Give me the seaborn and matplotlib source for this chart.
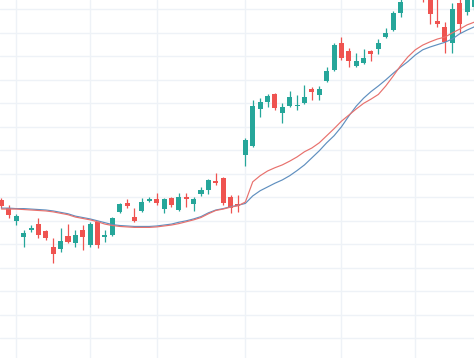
import numpy as np
import pandas as pd
import seaborn as sns
import matplotlib.pyplot as plt

# --- Configuration ---
OUT_FILE = 'out.png'
UP_COLOR = '#26a69a'
DOWN_COLOR = '#ef5350'
MA_FAST_COLOR = '#e8716d'
MA_SLOW_COLOR = '#5f8fbf'
GRID_COLOR = '#eef2f7'

# --- Candle data ---
opens = [129.4, 127.7, 125.0, 121.6, 123.1, 124.3, 122.9, 119.4, 119.0, 121.8,
         120.3, 123.1, 119.9, 124.8, 121.6, 122.0, 126.9, 128.8, 125.8, 127.1,
         129.2, 129.7, 127.5, 129.9, 127.3, 130.1, 128.6, 130.7, 131.6, 133.5,
         134.1, 130.1, 128.4, 139.0, 140.9, 148.8, 150.3, 152.0, 148.0, 149.4,
         149.4, 150.1, 153.1, 151.8, 154.8, 157.1, 162.9, 161.1, 158.0, 158.6,
         161.1, 161.6, 164.1, 165.6, 169.2, 173.0, 176.0, 176.0, 173.5, 167.5,
         166.3, 162.9, 171.4, 169.4, 170.5]
highs = [129.9, 128.4, 126.5, 123.1, 124.1, 125.6, 123.1, 121.4, 123.5, 124.3,
         123.1, 124.1, 124.8, 125.0, 123.1, 125.8, 128.8, 129.7, 127.7, 129.9,
         130.1, 130.9, 129.9, 130.1, 130.9, 130.9, 130.1, 132.2, 133.9, 135.2,
         134.3, 130.5, 130.5, 142.6, 150.7, 151.1, 152.0, 152.2, 150.1, 152.6,
         151.8, 153.9, 153.5, 153.7, 157.7, 162.9, 164.1, 161.8, 160.7, 161.6,
         161.4, 163.7, 166.0, 169.7, 172.4, 177.0, 178.5, 177.0, 174.0, 172.5,
         167.3, 171.4, 172.2, 173.0, 173.0]
lows = [127.7, 125.6, 124.1, 119.4, 122.6, 121.4, 120.9, 116.0, 118.4, 120.3,
        119.4, 118.8, 119.4, 119.2, 120.5, 121.8, 126.7, 127.7, 124.8, 126.9,
        129.0, 128.4, 126.7, 128.0, 127.1, 128.0, 127.1, 130.3, 130.7, 132.6,
        128.4, 126.7, 126.9, 136.7, 140.7, 147.1, 149.2, 148.6, 145.8, 149.2,
        148.6, 149.9, 150.7, 150.7, 154.6, 156.9, 159.2, 157.7, 157.7, 158.4,
        159.0, 160.5, 163.9, 165.4, 168.4, 172.5, 174.0, 171.6, 166.9, 166.3,
        160.7, 160.7, 165.0, 168.8, 169.8]
closes = [128.2, 126.3, 126.0, 122.4, 123.5, 122.0, 121.4, 118.0, 120.7, 120.5,
          122.0, 121.6, 124.3, 119.9, 122.0, 125.6, 128.6, 128.2, 125.0, 129.0,
          129.7, 128.8, 129.7, 128.4, 130.1, 129.7, 129.7, 131.6, 133.7, 133.1,
          128.8, 127.7, 128.2, 142.2, 149.4, 150.3, 151.6, 149.0, 149.2, 151.4,
          149.7, 151.4, 152.4, 153.1, 156.9, 162.4, 159.7, 159.0, 159.0, 159.7,
          160.5, 162.9, 165.0, 169.2, 171.6, 176.0, 177.5, 173.5, 169.0, 166.9,
          163.1, 170.1, 166.9, 172.5, 172.5]

# --- Moving averages ---
ma_fast = [127.5, 127.5, 127.5, 127.4, 127.3, 127.2, 127.1, 126.9, 126.6, 126.3,
           125.8, 125.5, 125.2, 124.8, 124.3, 124.0, 123.8, 123.7, 123.6, 123.6,
           123.6, 123.7, 123.9, 124.1, 124.4, 124.8, 125.2, 125.7, 126.5, 127.2,
           127.5, 127.9, 128.2, 129.0, 133.3, 134.6, 135.6, 136.3, 136.9, 137.7,
           138.6, 139.7, 140.5, 141.6, 143.1, 144.6, 146.2, 147.5, 148.8, 150.0,
           150.9, 151.9, 153.7, 155.8, 158.0, 159.9, 161.4, 162.4, 163.1, 163.7,
           164.1, 165.0, 165.8, 166.7, 167.3]
ma_slow = [127.7, 127.7, 127.6, 127.6, 127.5, 127.4, 127.3, 127.1, 126.8, 126.5,
           126.0, 125.7, 125.4, 125.0, 124.6, 124.2, 124.0, 123.9, 123.8, 123.8,
           123.8, 123.9, 124.1, 124.3, 124.7, 125.0, 125.4, 125.9, 126.7, 127.3,
           127.6, 128.0, 128.3, 128.7, 130.3, 131.4, 132.2, 133.0, 133.7, 134.6,
           135.7, 136.9, 138.4, 139.9, 141.6, 143.1, 145.0, 147.3, 149.4, 151.1,
           152.5, 153.7, 155.0, 156.4, 157.7, 158.9, 160.3, 161.4, 162.0, 162.5,
           163.0, 163.7, 164.8, 165.6, 166.3]

# candle indices where the date grid lines fall
date_grid = [2, 12, 21, 33, 46, 56]

df = pd.DataFrame({'open': opens, 'high': highs, 'low': lows, 'close': closes,
                   'ma_fast': ma_fast, 'ma_slow': ma_slow})
df['idx'] = np.arange(len(df))
df['up'] = df['close'] >= df['open']
df['color'] = np.where(df['up'], UP_COLOR, DOWN_COLOR)
df['body_low'] = df[['open', 'close']].min(axis=1)
df['body_h'] = (df['close'] - df['open']).abs().clip(lower=0.3)

sns.set_style('white')
fig = plt.figure(figsize=(4.74, 3.58), dpi=100)
ax = fig.add_axes([0, 0, 1, 1])

# grid
for g in date_grid:
    ax.axvline(g, color=GRID_COLOR, lw=1.0, zorder=0)
for h in np.arange(100, 175, 5):
    ax.axhline(h, color=GRID_COLOR, lw=1.0, zorder=0)

# wicks + bodies
ax.vlines(df['idx'], df['low'], df['high'], colors=df['color'], lw=0.9, zorder=2)
ax.bar(df['idx'], df['body_h'], bottom=df['body_low'], width=0.68,
       color=df['color'], linewidth=0, zorder=3)

# moving averages
sns.lineplot(data=df, x='idx', y='ma_slow', color=MA_SLOW_COLOR, lw=0.85, ax=ax, zorder=4)
sns.lineplot(data=df, x='idx', y='ma_fast', color=MA_FAST_COLOR, lw=0.85, ax=ax, zorder=4)

ax.set_xlim(-0.2, 63.94)
ax.set_ylim(95.8, 172.0)
ax.set_xticks([])
ax.set_yticks([])
ax.set_xlabel('')
ax.set_ylabel('')
for s in ax.spines.values():
    s.set_visible(False)

fig.savefig(OUT_FILE, dpi=100)
plt.close(fig)
